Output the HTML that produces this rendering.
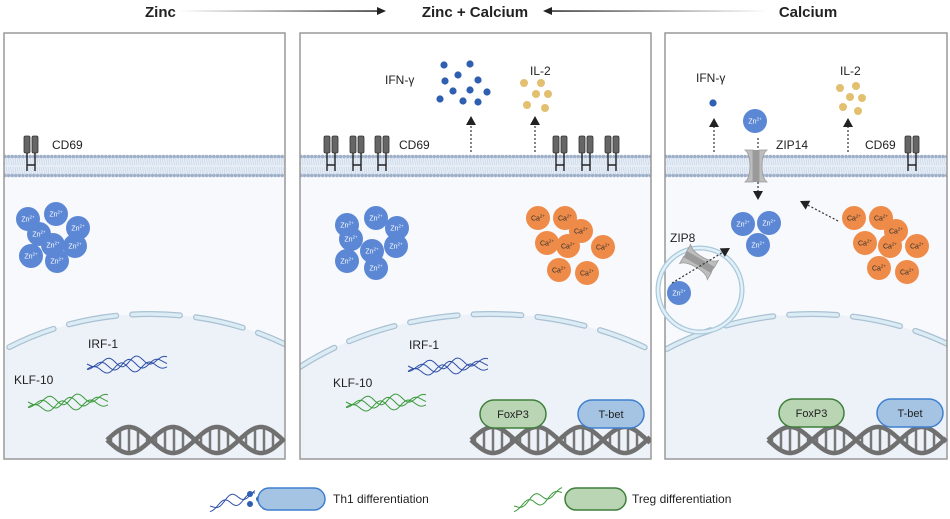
<!DOCTYPE html>
<html><head><meta charset="utf-8"><style>
html,body{margin:0;padding:0;background:#fff;overflow:hidden;width:950px;height:519px}
svg{display:block;font-family:"Liberation Sans",sans-serif}
</style></head><body>
<svg id="s" width="950" height="519" viewBox="0 0 950 519" xmlns="http://www.w3.org/2000/svg">
<defs>
<clipPath id="c1"><rect x="4" y="33" width="281" height="426"/></clipPath>
<clipPath id="c2"><rect x="300" y="33" width="351" height="426"/></clipPath>
<clipPath id="c3"><rect x="665" y="33" width="282" height="426"/></clipPath>
<linearGradient id="g1" gradientUnits="userSpaceOnUse" x1="178" y1="0" x2="385" y2="0"><stop offset="0" stop-color="#fff"/><stop offset="1" stop-color="#222"/></linearGradient>
<linearGradient id="g2" gradientUnits="userSpaceOnUse" x1="768" y1="0" x2="545" y2="0"><stop offset="0" stop-color="#fff"/><stop offset="1" stop-color="#222"/></linearGradient>
</defs>
<text x="145" y="17" font-size="15" font-weight="bold" fill="#222">Zinc</text>
<text x="475" y="17" font-size="15" font-weight="bold" fill="#222" text-anchor="middle">Zinc + Calcium</text>
<text x="808" y="17" font-size="15" font-weight="bold" fill="#222" text-anchor="middle">Calcium</text>
<rect x="178" y="10.3" width="200" height="1.5" fill="url(#g1)"/>
<path d="M386,11 L377,7 L377,15z" fill="#222"/>
<rect x="552" y="10.3" width="216" height="1.5" fill="url(#g2)"/>
<path d="M543,11 L552,7 L552,15z" fill="#222"/>
<g id="panels"></g>
<g id="content" font-size="12" fill="#222">
<text x="52" y="149">CD69</text>
<text x="88" y="348">IRF-1</text>
<text x="14" y="384">KLF-10</text>
<text x="399" y="149">CD69</text>
<text x="385" y="84">IFN-γ</text>
<text x="530" y="75">IL-2</text>
<text x="409" y="349">IRF-1</text>
<text x="333" y="387">KLF-10</text>
<text x="696" y="82">IFN-γ</text>
<text x="840" y="75">IL-2</text>
<text x="865" y="149">CD69</text>
<text x="776" y="149">ZIP14</text>
<text x="670" y="242">ZIP8</text>
<text x="333" y="503">Th1 differentiation</text>
<text x="632" y="503">Treg differentiation</text>
</g>
</svg>
<script>
var NS="http://www.w3.org/2000/svg",s=document.getElementById('s'),P=document.getElementById('panels');
function el(t,a,p){var e=document.createElementNS(NS,t);for(var k in a)e.setAttribute(k,a[k]);(p||P).appendChild(e);return e;}
function txt(x,y,t,a,p){var e=el('text',Object.assign({x:x,y:y},a),p);e.textContent=t;return e;}
var panels=[[4,281,'c1',150,260],[300,351,'c2',490,285],[665,282,'c3',812,262]];
panels.forEach(function(p){
 var x=p[0],w=p[1],g=el('g',{'clip-path':'url(#'+p[2]+')'});
 el('rect',{x:x,y:33,width:w,height:426,fill:'#fff'},g);
 el('rect',{x:x,y:166,width:w,height:293,fill:'#f7f9fd'},g);
 el('rect',{x:x,y:156,width:w,height:20,fill:'#e6edf6'},g);
 for(var i=x;i<x+w;i+=2.2){el('line',{x1:i,y1:158,x2:i+1,y2:165,stroke:'#c5d3e6','stroke-width':0.6},g);el('line',{x1:i,y1:167,x2:i+1,y2:174,stroke:'#c5d3e6','stroke-width':0.6},g);}
 for(var i=x+1;i<x+w;i+=3.6){el('circle',{cx:i,cy:156.5,r:1.8,fill:'#9fb1c9'},g);el('circle',{cx:i,cy:175.5,r:1.8,fill:'#9fb1c9'},g);}
 el('ellipse',{cx:p[3],cy:522,rx:p[4],ry:208,fill:'#edf2f8'},g);
 el('ellipse',{cx:p[3],cy:522,rx:p[4],ry:208,fill:'none',stroke:'#a9c1d3','stroke-width':6,'stroke-dasharray':'48 16','stroke-linecap':'round'},g);
 el('ellipse',{cx:p[3],cy:522,rx:p[4],ry:208,fill:'none',stroke:'#dcecf5','stroke-width':3.5,'stroke-dasharray':'48 16','stroke-linecap':'round'},g);
 el('rect',{x:x,y:33,width:w,height:426,fill:'none',stroke:'#999','stroke-width':1.5});
});
function rec(cx){var g=el('g',{});
 el('rect',{x:cx-7,y:136,width:6,height:17,rx:1.5,fill:'#666',stroke:'#333','stroke-width':0.8},g);
 el('rect',{x:cx+1,y:136,width:6,height:17,rx:1.5,fill:'#666',stroke:'#333','stroke-width':0.8},g);
 el('path',{d:'M'+(cx-4)+',153 V171 M'+(cx+4)+',153 V171 M'+(cx-4)+',165 H'+(cx+4),stroke:'#222','stroke-width':1.4,fill:'none'},g);}
[31,331,357,382,560,586,612,912].forEach(rec);
function ion(x,y,t,col,tc){el('circle',{cx:x,cy:y,r:12,fill:col});
 var e=el('text',{x:x,y:y+2.5,'text-anchor':'middle','font-size':7,fill:tc});e.innerHTML=t+'<tspan font-size="4.5" dy="-3">2+</tspan>';}
var Z='#5b87d5',C='#ef8b48';
[[28,219],[56,214],[78,228],[39,234],[53,245],[75,246],[31,256],[57,261]].forEach(function(a){ion(a[0],a[1],'Zn',Z,'#fff');});
[[347,225],[376,218],[397,228],[351,239],[372,251],[396,246],[347,261],[376,268]].forEach(function(a){ion(a[0],a[1],'Zn',Z,'#fff');});
[[538,218],[565,218],[581,231],[547,243],[568,246],[603,247],[559,270],[587,273]].forEach(function(a){ion(a[0],a[1],'Ca',C,'#333');});
[[755,121],[743,224],[769,223],[758,245],[679,293]].forEach(function(a){ion(a[0],a[1],'Zn',Z,'#fff');});
[[854,218],[881,218],[896,231],[865,243],[890,246],[917,246],[879,268],[907,272]].forEach(function(a){ion(a[0],a[1],'Ca',C,'#333');});
[[444,65],[470,64],[458,75],[445,81],[478,80],[453,91],[470,90],[487,92],[440,99],[463,101],[478,102],[713,103]].forEach(function(a){el('circle',{cx:a[0],cy:a[1],r:3.6,fill:'#2f5fb0'});});
[[524,83],[541,83],[536,94],[548,94],[527,105],[545,108],[840,88],[856,86],[850,97],[862,98],[843,107],[858,111]].forEach(function(a){el('circle',{cx:a[0],cy:a[1],r:4,fill:'#e2c070'});});
function arr(x1,y1,x2,y2){var dx=x2-x1,dy=y2-y1,L=Math.hypot(dx,dy),ux=dx/L,uy=dy/L,bx=x2-ux*9,by=y2-uy*9;
 el('line',{x1:x1,y1:y1,x2:bx,y2:by,stroke:'#333','stroke-width':1.2,'stroke-dasharray':'2 2'});
 el('path',{d:'M'+x2+','+y2+' L'+(bx-uy*5)+','+(by+ux*5)+' L'+(bx+uy*5)+','+(by-ux*5)+'z',fill:'#222'});}
arr(471,152,471,116);arr(535,152,535,116);arr(714,152,714,118);arr(848,152,848,118);
arr(758,138,758,200);arr(838,221,800,201);
el('circle',{cx:700,cy:290,r:42,fill:'none',stroke:'#a9c9dc','stroke-width':5});
el('circle',{cx:700,cy:290,r:42,fill:'none',stroke:'#e3f0f7','stroke-width':2.5});
function chan(cx,cy,rot){var g=el('g',{transform:'translate('+cx+','+cy+') rotate('+rot+')'});
 el('path',{d:'M-11,-16 Q-6,-12 -6,0 Q-6,12 -11,16 L-3,16 L-3,-16z',fill:'#bdbdbd',stroke:'#999','stroke-width':0.8},g);
 el('path',{d:'M11,-16 Q6,-12 6,0 Q6,12 11,16 L3,16 L3,-16z',fill:'#bdbdbd',stroke:'#999','stroke-width':0.8},g);
 el('rect',{x:-3,y:-16,width:6,height:32,fill:'#9a9a9a'},g);}
chan(756,166,0);chan(699,262,-60);
arr(672,283,730,248);
function sq(x0,y0,len,col,rise,n){for(var k=0;k<(n||3);k++){var d='';for(var x=0;x<=len;x+=1){var y=y0+k*3-rise*x/len+5*Math.sin(x/4.5+k*1.7)*(0.5+0.5*Math.sin(Math.PI*x/len));d+=(x?'L':'M')+(x0+x)+','+y.toFixed(1);}
 el('path',{d:d,stroke:col,'stroke-width':1,fill:'none'});}}
sq(87,364,80,'#2e4fa8',5);sq(28,402,80,'#3a9a3a',5);
sq(408,366,80,'#2e4fa8',5);sq(346,402,80,'#3a9a3a',5);
sq(210,506,45,'#2e4fa8',14,2);sq(514,506,48,'#3a9a3a',16,2);
[[250,494],[259,499],[250,504],[265,507]].forEach(function(a){el('circle',{cx:a[0],cy:a[1],r:3,fill:'#2f5fb0'});});
function dna(x0,x1){var g=el('g',{});var d1='',d2='';
 for(var x=x0;x<=x1;x++){var t=(x-x0)/88*2*Math.PI,a=440+13*Math.sin(t),b=440-13*Math.sin(t);d1+=(x>x0?'L':'M')+x+','+a.toFixed(1);d2+=(x>x0?'L':'M')+x+','+b.toFixed(1);}
 for(var x=x0+4;x<x1;x+=9){var t=(x-x0)/88*2*Math.PI,h=13*Math.sin(t);if(Math.abs(h)>3)el('line',{x1:x,y1:440-h,x2:x,y2:440+h,stroke:'#777','stroke-width':2.5},g);}
 el('path',{d:d1,stroke:'#707070','stroke-width':4.5,fill:'none'},g);el('path',{d:d2,stroke:'#707070','stroke-width':4.5,fill:'none'},g);}
dna(107,284);dna(471,650);dna(768,946);
function pill(x,y,w,h,f,st,t){el('rect',{x:x,y:y,width:w,height:h,rx:h/2,fill:f,stroke:st,'stroke-width':1.5});if(t)txt(x+w/2,y+h/2+4,t,{'text-anchor':'middle','font-size':11,fill:'#222'});}
pill(480,400,66,28,'#b9d5b4','#3f7f3a','FoxP3');pill(578,400,66,28,'#a5c4e4','#3f7fcf','T-bet');
pill(779,399,65,28,'#b9d5b4','#3f7f3a','FoxP3');pill(877,399,66,28,'#a5c4e4','#3f7fcf','T-bet');
pill(258,488,67,22,'#a5c4e4','#3f7fcf');pill(565,488,61,22,'#b9d5b4','#3f7f3a');
s.appendChild(document.getElementById('content'));
</script>
</body></html>
